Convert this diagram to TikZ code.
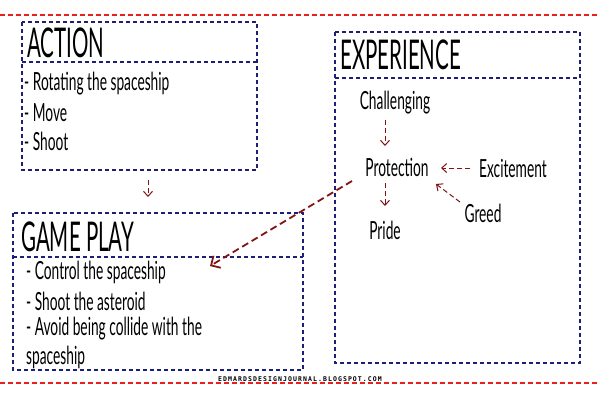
\documentclass[tikz,border=0pt]{standalone}
\usepackage{fontspec}
\setmainfont[FakeStretch=0.55]{Lato}
\newfontfamily\titlefont[FakeStretch=0.5]{Lato}
\newfontfamily\footfont{DejaVu Sans Mono}
\usetikzlibrary{arrows.meta}
\definecolor{navy}{RGB}{30,30,120}
\definecolor{dred}{RGB}{130,20,20}
\definecolor{lred}{RGB}{235,30,30}
\tikzset{
  boxline/.style={draw=navy,dashed,line width=1.2pt,dash pattern=on 4pt off 3pt},
  redline/.style={draw=lred,line width=1.5pt,dash pattern=on 5pt off 3pt},
  title/.style={anchor=west,inner sep=0,font=\titlefont\fontsize{41}{41}\selectfont},
  item/.style={anchor=west,inner sep=0,font=\fontsize{25}{25}\selectfont},
  lbl/.style={inner sep=0,font=\fontsize{25}{25}\selectfont},
  conn/.style={draw=dred,line width=1pt,dash pattern=on 5pt off 3pt,-{Straight Barb[length=5pt,width=9pt]}},
}
\begin{document}
\begin{tikzpicture}[x=1pt,y=-1pt]
\useasboundingbox (0,0) rectangle (600,400);
\fill[white] (0,0) rectangle (600,400);
\coordinate (tl) at (0,15); \coordinate (tr) at (600,15);
\coordinate (bl) at (0,383); \coordinate (br) at (600,383);
\draw[redline] (tl) -- (tr);
\draw[redline] (bl) -- (br);
% ACTION
\draw[boxline] (22,22) rectangle (257,170);
\draw[boxline] (22,62) -- (257,62);
\node[title] (act) at (27,43) {ACTION};
\node[item] (a1) at (24,84) {- Rotating the spaceship};
\node[item] (a2) at (24,113) {- Move};
\node[item] (a3) at (24,141) {- Shoot};
% GAME PLAY
\draw[boxline] (13,213) rectangle (303,370);
\draw[boxline] (13,257) -- (303,257);
\node[title] (gp) at (21,237) {GAME PLAY};
\node[item] (g1) at (26,272) {- Control the spaceship};
\node[item] (g2) at (26,301) {- Shoot the asteroid};
\node[item] (g3) at (26,329) {- Avoid being collide with the};
\node[item] (g4) at (26,357) {spaceship};
% EXPERIENCE
\draw[boxline] (335,32) rectangle (580,363);
\draw[boxline] (335,78) -- (580,78);
\node[title] (ex) at (340,55) {EXPERIENCE};
\node[lbl] (ch) at (395,103) {Challenging};
\node[lbl] (pr) at (397,167) {Protection};
\node[lbl] (exc) at (513,168) {Excitement};
\node[lbl] (pd) at (385,230) {Pride};
\node[lbl] (gr) at (483,213) {Greed};
\coordinate (as) at (148,180); \coordinate (ae) at (148,197);
\draw[conn] (as) -- (ae);
\draw[conn] (385,120) -- (385,146);
\draw[conn] (470,168) -- (441,168);
\draw[conn] (460,202) -- (436,184);
\draw[conn] (385,183) -- (385,206);
\draw[conn,line width=1.8pt,dash pattern=on 7pt off 4pt,-{Straight Barb[length=7pt,width=14pt]}] (352,181) -- (210,266);
\node[inner sep=0,font=\footfont\bfseries\fontsize{6.5}{7}\selectfont] (ft) at (300,379) {E\,D\,M\,A\,R\,D\,S\,D\,E\,S\,I\,G\,N\,J\,O\,U\,R\,N\,A\,L\,.\,B\,L\,O\,G\,S\,P\,O\,T\,.\,C\,O\,M};
\end{tikzpicture}
\end{document}
